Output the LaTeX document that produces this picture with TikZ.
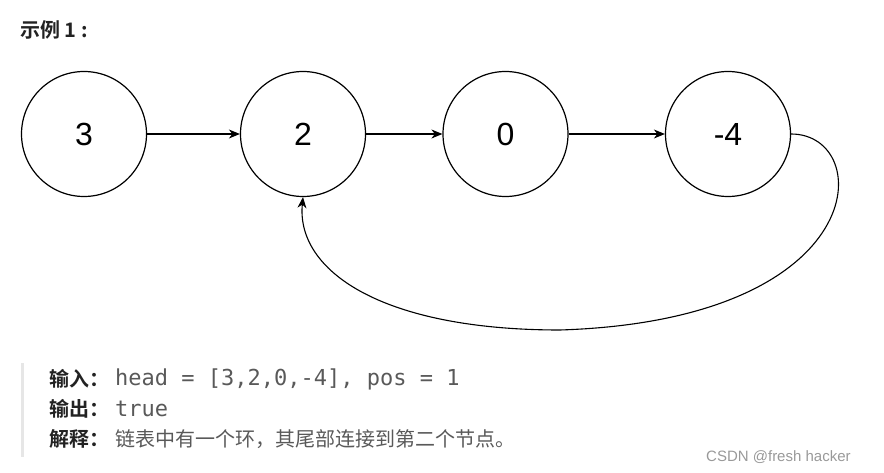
\documentclass[tikz,border=0pt]{standalone}
\usepackage{fontspec}
\setmainfont{Liberation Sans}
\newfontfamily\cjk{Noto Sans CJK SC}
\newfontfamily\cjkb{Noto Sans CJK SC Bold}
\newfontfamily\monof{DejaVu Sans Mono}
\usetikzlibrary{arrows.meta}
\definecolor{labelc}{HTML}{222222}
\definecolor{bodyc}{HTML}{595959}
\definecolor{barc}{HTML}{E6E6E6}
\definecolor{wmc}{HTML}{999999}
\begin{document}
\begin{tikzpicture}[x=1pt,y=-1pt,
  listnode/.style={circle,draw=black,line width=1.2pt,minimum size=125pt,inner sep=0pt,font=\fontsize{32}{32}\selectfont},
  link/.style={line width=1.1pt,-{Stealth[length=11pt,width=9pt,inset=3.5pt]}},
  lab/.style={anchor=west,inner sep=0pt,text=labelc,font=\cjkb\fontsize{20}{20}\selectfont},
  body/.style={anchor=west,inner sep=0pt,text=bodyc}]
\useasboundingbox (0,0) rectangle (884,473);
\node[lab,font=\cjkb\fontsize{20}{20}\selectfont] (title) at (20,30) {示例 1 :};
\node[listnode] (n1) at (84,134) {3};
\node[listnode] (n2) at (303,134) {2};
\node[listnode] (n3) at (505.5,134) {0};
\node[listnode] (n4) at (728,134) {-4};
\draw[link] (n1) -- (n2);
\draw[link] (n2) -- (n3);
\draw[link] (n3) -- (n4);
\coordinate (b) at (560,330);
\draw[link] (n4.east) .. controls (875,134) and (875,320) .. (b) .. controls (380,330) and (296,270) .. (n2.south);
\fill[barc] (21,363) rectangle (24,457);
\node[lab] (l1) at (49,379) {输入：};
\node[body,font=\monof\fontsize{22}{22}\selectfont] (v1) at (115,379) {head = [3,2,0,-4], pos = 1};
\node[lab] (l2) at (49,409) {输出：};
\node[body,font=\monof\fontsize{22}{22}\selectfont] (v2) at (115,409) {true};
\node[lab] (l3) at (49,439) {解释：};
\node[body,font=\cjk\fontsize{20}{20}\selectfont] (v3) at (115,439) {链表中有一个环，其尾部连接到第二个节点。};
\node[anchor=west,inner sep=0pt,text=wmc,font=\fontsize{15}{15}\selectfont] (wm) at (706,457) {CSDN @fresh hacker};
\end{tikzpicture}
\end{document}
